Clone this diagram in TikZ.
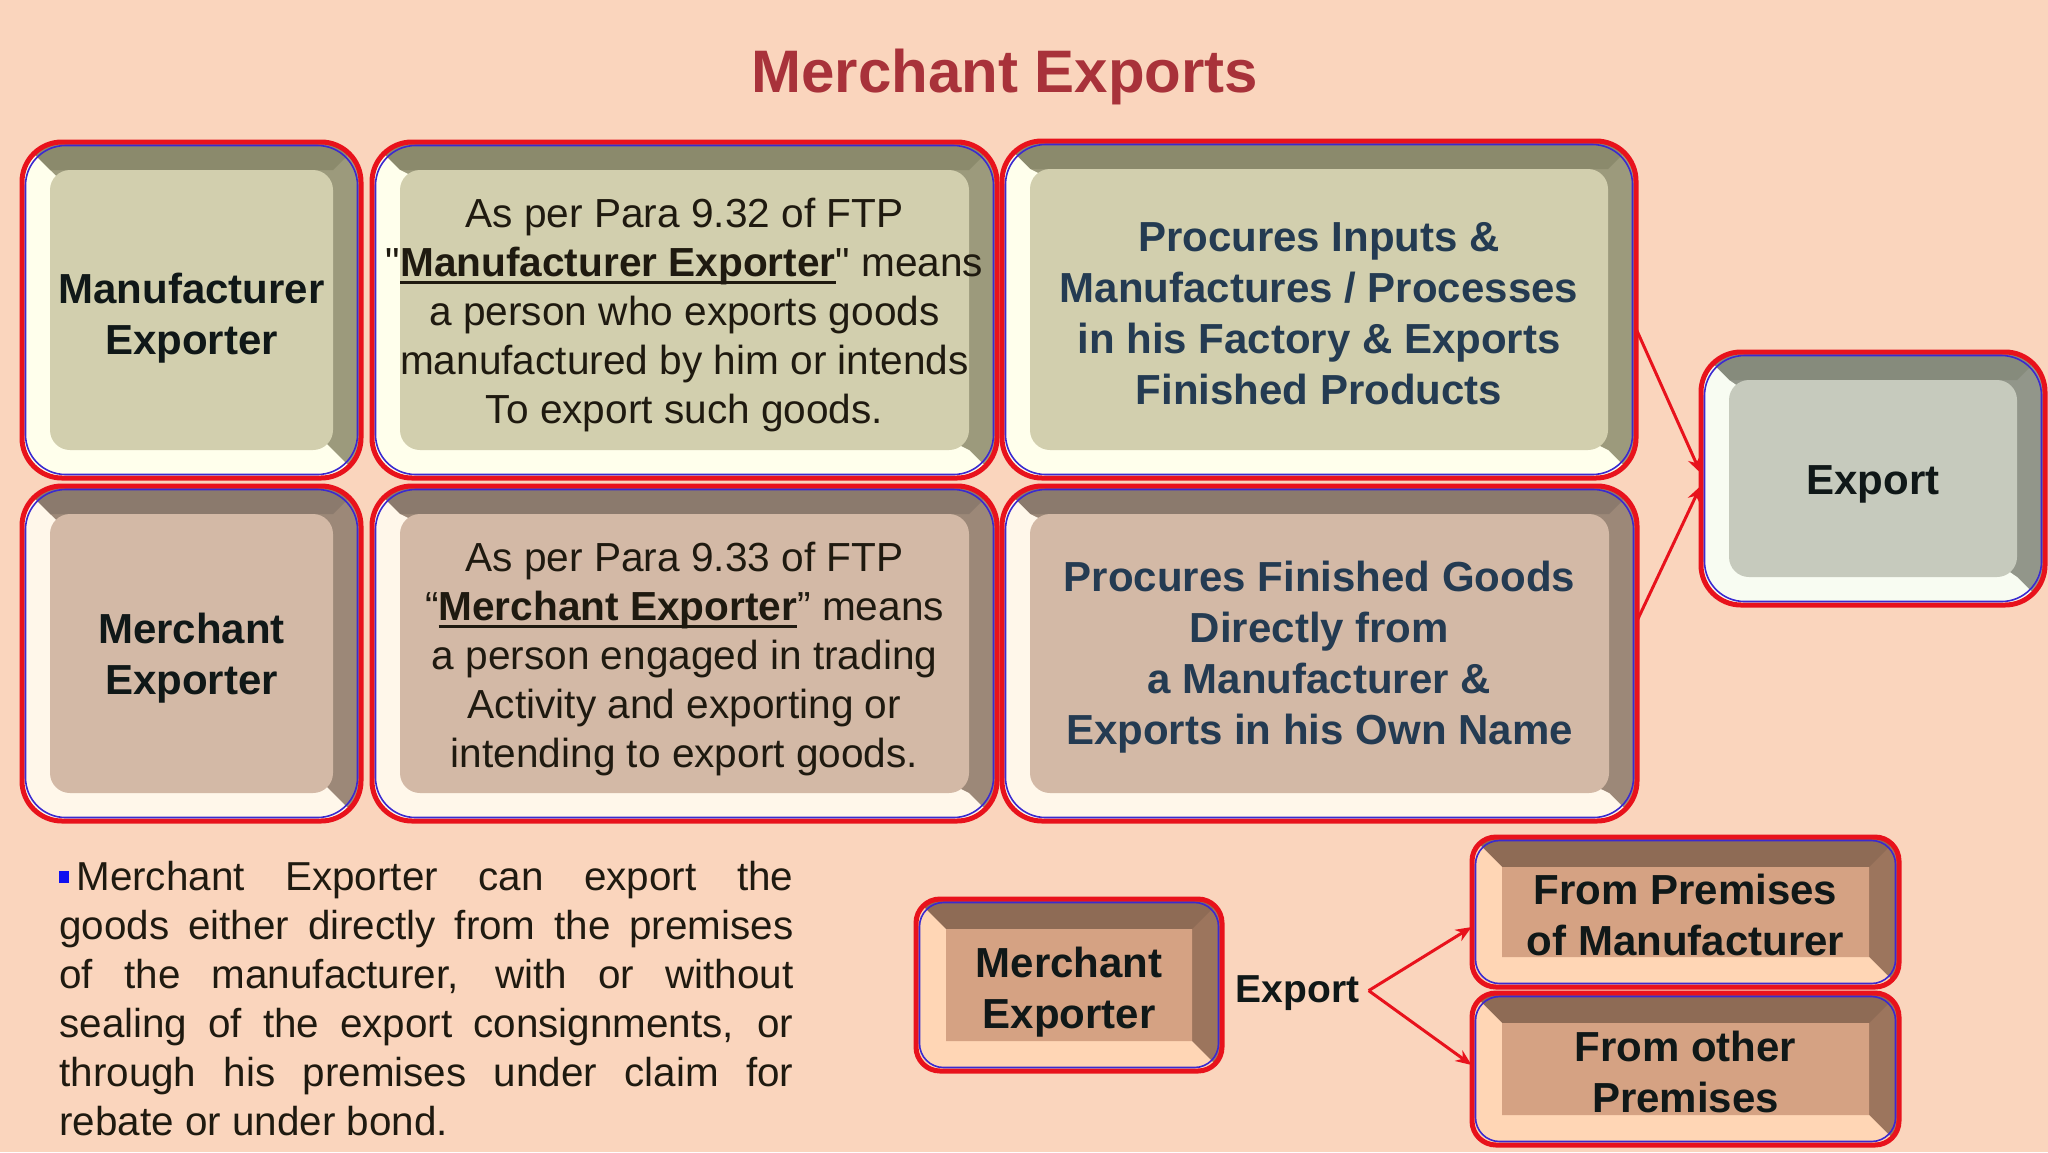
\documentclass[tikz,border=0pt]{standalone}
\usepackage{fontspec}
\setmainfont{Liberation Sans}
\usetikzlibrary{arrows.meta}
\definecolor{bg}{HTML}{FAD5BD}
\definecolor{bred}{HTML}{E8121C}
\definecolor{bblue}{HTML}{3A2AD0}
\definecolor{titlered}{HTML}{A8323A}
\definecolor{tblack}{HTML}{101818}
\definecolor{tdark}{HTML}{1F1A10}
\definecolor{tnavy}{HTML}{243B52}
\definecolor{bullblue}{HTML}{1010F0}
% manufacturer palette
\definecolor{pmF}{HTML}{D2CFAE}\definecolor{pmT}{HTML}{8B8A6C}\definecolor{pmR}{HTML}{9C9A7C}\definecolor{pmL}{HTML}{FFFFEC}
% merchant palette
\definecolor{mmF}{HTML}{D3B9A6}\definecolor{mmT}{HTML}{8B7A6D}\definecolor{mmR}{HTML}{9C8878}\definecolor{mmL}{HTML}{FFF7EA}
% export palette
\definecolor{xmF}{HTML}{C6CABD}\definecolor{xmT}{HTML}{868B7C}\definecolor{xmR}{HTML}{92968A}\definecolor{xmL}{HTML}{F8FCF2}
% bottom palette
\definecolor{cmF}{HTML}{D5A283}\definecolor{cmT}{HTML}{8E6B55}\definecolor{cmR}{HTML}{9C755D}\definecolor{cmL}{HTML}{FFD6B5}
\hbadness=10000
\newcommand\myul[1]{\setbox0\hbox{#1}\rlap{\rule[-3.4pt]{\wd0}{1.2pt}}\box0}
\newcommand\sq{\XeTeXglyph\XeTeXcharglyph"22\relax}
\tikzset{
  bevA/.code={\def\oR{20pt}\def\fR{10pt}\def\bw{28}},
  bevB/.code={\def\oR{12pt}\def\fR{0.1pt}\def\bw{30}},
  txtbold/.style={font=\fontsize{21pt}{25.5pt}\selectfont\bfseries, align=center, inner sep=0pt},
  txtreg/.style={font=\fontsize{20.3pt}{24.5pt}\selectfont, align=center, inner sep=0pt, text=tdark},
  arr/.style={draw=bred, line width=1.5pt, -{Stealth[length=8pt,width=6.5pt]}},
}
% #1 name #2 x1 #3 y1 #4 x2 #5 y2 #6 palette #7 bevel type #8 text options #9 text
\newcommand\bevbox[9]{%
  \tikzset{#7}%
  \begin{scope}
    \clip[rounded corners=\oR] (#2,#3) rectangle (#4,#5);
    \fill[#6R] (#2,#3) rectangle (#4,#5);
    \fill[#6T] (#2,#3) -- (#4,#3) -- ({#4-\bw},{#3+\bw}) -- ({#2+\bw},{#3+\bw}) -- cycle;
    \fill[#6L] (#2,#3) -- ({#2+\bw},{#3+\bw}) -- ({#4-\bw},{#5-\bw}) -- (#4,#5) -- (#2,#5) -- cycle;
  \end{scope}
  \fill[#6F, rounded corners=\fR] ({#2+\bw},{#3+\bw}) rectangle ({#4-\bw},{#5-\bw});
  \draw[bred, line width=2.5pt, rounded corners=\oR] (#2,#3) rectangle (#4,#5);
  \draw[bblue, line width=0.8pt, rounded corners=\oR] ({#2+3.5},{#3+3.5}) rectangle ({#4-3.5},{#5-3.5});
  \node[inner sep=0pt, minimum width={(#4-#2)*0.5pt}, minimum height={(#5-#3)*0.5pt}] (#1) at ({(#2+#4)/2},{(#3+#5)/2}) {};
  \node[#8] (#1t) at ({(#2+#4)/2},{(#3+#5)/2}) {#9};
}
\begin{document}
\begin{tikzpicture}[x=0.5pt,y=-0.5pt]
\fill[bg] (0,0) rectangle (2048,1152);
\useasboundingbox (0,0) rectangle (2048,1152);

% title
\node[anchor=base, font=\fontsize{30pt}{36pt}\selectfont\bfseries, text=titlered] (title) at (1005,92) {Merchant Exports};

% row 1
\bevbox{b1}{22}{142}{361}{478}{pm}{bevA}{txtbold, text=tblack, yshift=-4pt}{Manufacturer\\Exporter}
\bevbox{b2}{372}{142}{997}{478}{pm}{bevA}{txtreg, yshift=-2.75pt}{As per Para 9.32 of FTP\\\sq\myul{\textbf{Manufacturer Exporter}}\sq{} means\\a person who exports goods\\manufactured by him or intends\\To export such goods.}
\bevbox{b3}{1002}{141}{1636}{478}{pm}{bevA}{txtbold, text=tnavy, yshift=-2pt}{Procures Inputs \&\\Manufactures / Processes\\in his Factory \& Exports\\Finished Products}

% row 2
\bevbox{b4}{22}{486}{361}{821}{mm}{bevA}{txtbold, text=tblack, yshift=-2.5pt}{Merchant\\Exporter}
\bevbox{b5}{372}{486}{997}{821}{mm}{bevA}{txtreg, yshift=-3pt}{As per Para 9.33 of FTP\\“\myul{\textbf{Merchant Exporter}}” means\\a person engaged in trading\\Activity and exporting or\\intending to export goods.}
\bevbox{b6}{1002}{486}{1637}{821}{mm}{bevA}{txtbold, text=tnavy, yshift=-2pt}{Procures Finished Goods\\Directly from\\a Manufacturer \&\\Exports in his Own Name}

% export box
\bevbox{ex}{1701}{352}{2045}{605}{xm}{bevA}{txtbold, text=tblack, yshift=-3pt}{Export}

\draw[arr] ([yshift=-10pt]b3.east) -- ([yshift=2.75pt]ex.west);
\draw[arr] ([yshift=16.75pt]b6.east) -- ([yshift=-3.75pt]ex.west);

% bottom diagram
\bevbox{me}{916}{899}{1222}{1071}{cm}{bevB}{txtbold, text=tblack, yshift=-3.8pt}{Merchant\\Exporter}
\bevbox{fp}{1472}{837}{1899}{987}{cm}{bevB}{txtbold, text=tblack, yshift=-1.5pt}{From Premises\\of Manufacturer}
\bevbox{fo}{1472}{993}{1899}{1145}{cm}{bevB}{txtbold, text=tblack, yshift=-1.5pt}{From other\\Premises}

\node[anchor=base, font=\fontsize{19.5pt}{24pt}\selectfont\bfseries, text=tblack, inner sep=0pt] (exl) at (1297.5,1002) {Export};
\draw[arr] ([xshift=4.5pt,yshift=1pt]exl.east) -- ([yshift=-7.5pt]fp.west);
\draw[arr] ([xshift=4.5pt,yshift=1pt]exl.east) -- ([yshift=2pt]fo.west);

% paragraph
\node[anchor=north west, inner sep=0pt, text width=367pt, align=justify,
      font=\fontsize{20.2pt}{24.5pt}\selectfont, text=tdark] (para) at (59,861)
 {\noindent\textcolor{bullblue}{\rule[4pt]{5pt}{6pt}}\hspace{3.5pt}Merchant Exporter can export the\linebreak
  goods either directly from the premises\linebreak
  of the manufacturer, with or without\linebreak
  sealing of the export consignments, or\linebreak
  through his premises under claim for\linebreak
  rebate or under bond.};
\end{tikzpicture}
\end{document}
